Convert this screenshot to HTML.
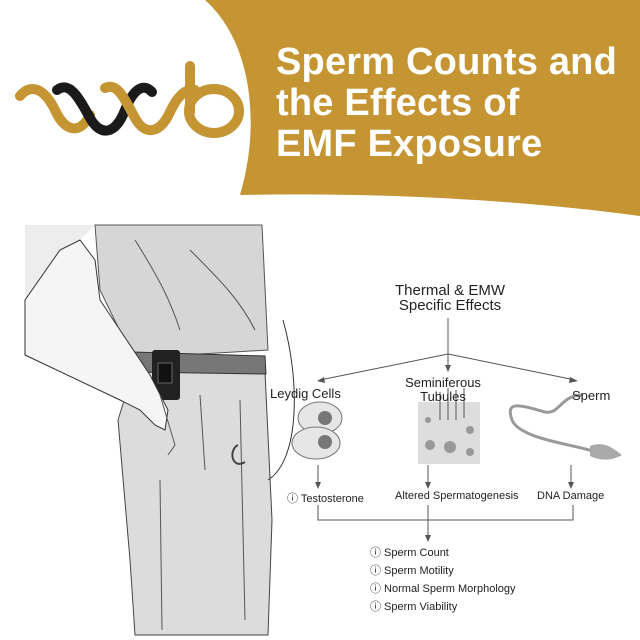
<!DOCTYPE html>
<html><head><style>
html,body{margin:0;padding:0;background:#fff;}
#c{position:relative;width:640px;height:640px;overflow:hidden;font-family:"Liberation Sans",sans-serif;}
</style></head><body><div id="c">
<svg width="640" height="640" viewBox="0 0 640 640" style="position:absolute;left:0;top:0">
<path d="M205,0 C250,40 262,120 240,195 C380,192 520,200 640,216 L640,0 Z" fill="#c49532"/>
<path d="M20,96 C32,82 45,90 55,110 C65,132 80,135 90,115" fill="none" stroke="#c49532" stroke-width="10" stroke-linecap="round"/>
<path d="M57,90 C70,80 80,100 90,118 C100,136 115,136 125,110 C133,90 143,82 152,92" fill="none" stroke="#1a1a1a" stroke-width="10" stroke-linecap="round"/>
<path d="M105,88 C118,82 125,100 135,118 C145,136 160,134 170,112 C178,95 186,88 195,90" fill="none" stroke="#c49532" stroke-width="10" stroke-linecap="round"/>
<path d="M190,66 L190,112" fill="none" stroke="#c49532" stroke-width="10" stroke-linecap="round"/>
<ellipse cx="214" cy="111" rx="25" ry="22" fill="none" stroke="#c49532" stroke-width="10"/>
<path d="M25,225 L95,225 L75,245 L60,250 L25,300 Z" fill="#ededed"/>
<path d="M95,225 L262,225 L268,350 L133,358 L100,290 Z" fill="#d6d6d6" stroke="#555" stroke-width="1"/>
<path d="M133,372 L265,372 L272,520 L268,635 L135,635 L130,560 L118,420 Z" fill="#dcdcdc" stroke="#444" stroke-width="1"/>
<path d="M133,352 L265,356 L266,374 L133,372 Z" fill="#777" stroke="#333"/>
<rect x="152" y="350" width="28" height="50" rx="3" fill="#222"/>
<rect x="158" y="363" width="14" height="20" fill="#111" stroke="#666"/>
<path d="M25,300 L60,250 L80,240 L95,260 L100,300 L150,375 L168,410 L165,430 L155,425 L140,410 L120,400 L25,355 Z" fill="#f5f5f5" stroke="#333" stroke-width="1"/>
<path d="M283,320 C300,380 300,460 268,480" fill="none" stroke="#333"/>
<g stroke="#555" fill="none" stroke-width="1">
<path d="M160,395 L175,445 L168,455"/><path d="M200,395 L205,470"/><path d="M160,480 L162,630"/><path d="M240,400 L245,620"/>
<path d="M135,240 C160,280 170,300 180,330"/><path d="M190,250 C220,280 240,300 255,330"/>
</g>
<path d="M238,445 C228,450 232,470 245,462" fill="none" stroke="#444" stroke-width="2"/>
<g stroke="#555" stroke-width="1" fill="none">
<path d="M448,318 L448,368"/><path d="M448,354 L320,380"/><path d="M448,354 L575,380"/>
<path d="M318,465 L318,485"/><path d="M428,465 L428,485"/><path d="M571,465 L571,485"/>
<path d="M318,505 L318,520 L573,520 L573,505"/><path d="M428,505 L428,538"/>
</g>
<g fill="#555">
<path d="M448,372 L445,365 L451,365Z"/><path d="M317,381 L324,377 L325,383Z"/><path d="M578,381 L570,377 L569,383Z"/>
<path d="M318,489 L315,482 L321,482Z"/><path d="M428,489 L425,482 L431,482Z"/><path d="M571,489 L568,482 L574,482Z"/><path d="M428,542 L425,535 L431,535Z"/>
</g>
<ellipse cx="320" cy="418" rx="22" ry="16" fill="#e6e6e6" stroke="#777"/>
<ellipse cx="316" cy="443" rx="24" ry="16" fill="#e6e6e6" stroke="#777"/>
<circle cx="325" cy="418" r="7" fill="#777"/><circle cx="325" cy="442" r="7" fill="#777"/>
<rect x="418" y="402" width="62" height="62" fill="#ddd"/>
<g fill="#999"><circle cx="428" cy="420" r="3"/><circle cx="470" cy="430" r="4"/><circle cx="430" cy="445" r="5"/><circle cx="450" cy="447" r="6"/><circle cx="470" cy="452" r="4"/></g>
<g stroke="#555"><path d="M440,392 L440,420"/><path d="M448,388 L448,420"/><path d="M456,390 L456,420"/><path d="M464,388 L464,418"/></g>
<path d="M583,395 C560,395 560,415 545,412 C520,405 505,400 512,420 C520,440 580,445 595,452" fill="none" stroke="#999" stroke-width="3"/>
<path d="M590,446 C605,440 615,450 622,455 C610,462 598,460 590,456 Z" fill="#aaa"/>
</svg>
<div style="position:absolute;left:276px;top:42px;color:#fff;font-size:38px;font-weight:bold;line-height:41px;letter-spacing:0.2px;">Sperm Counts and<br>the Effects of<br>EMF Exposure</div>
<div style="position:absolute;left:360px;top:283px;width:180px;text-align:center;font-size:15px;line-height:15px;color:#222;">Thermal &amp; EMW<br>Specific Effects</div>
<div style="position:absolute;left:270px;top:386px;font-size:13px;color:#222;">Leydig Cells</div>
<div style="position:absolute;left:393px;top:376px;width:100px;text-align:center;font-size:13px;line-height:14px;color:#222;">Seminiferous<br>Tubules</div>
<div style="position:absolute;left:572px;top:388px;font-size:13px;color:#222;">Sperm</div>
<div style="position:absolute;left:287px;top:490px;font-size:11px;color:#222;">ⓘ Testosterone</div>
<div style="position:absolute;left:395px;top:490px;font-size:11px;color:#222;">Altered Spermatogenesis</div>
<div style="position:absolute;left:537px;top:490px;font-size:11px;color:#222;">DNA Damage</div>
<div style="position:absolute;left:370px;top:544px;font-size:11px;line-height:18px;color:#222;">ⓘ Sperm Count<br>ⓘ Sperm Motility<br>ⓘ Normal Sperm Morphology<br>ⓘ Sperm Viability</div>
</div></body></html>
